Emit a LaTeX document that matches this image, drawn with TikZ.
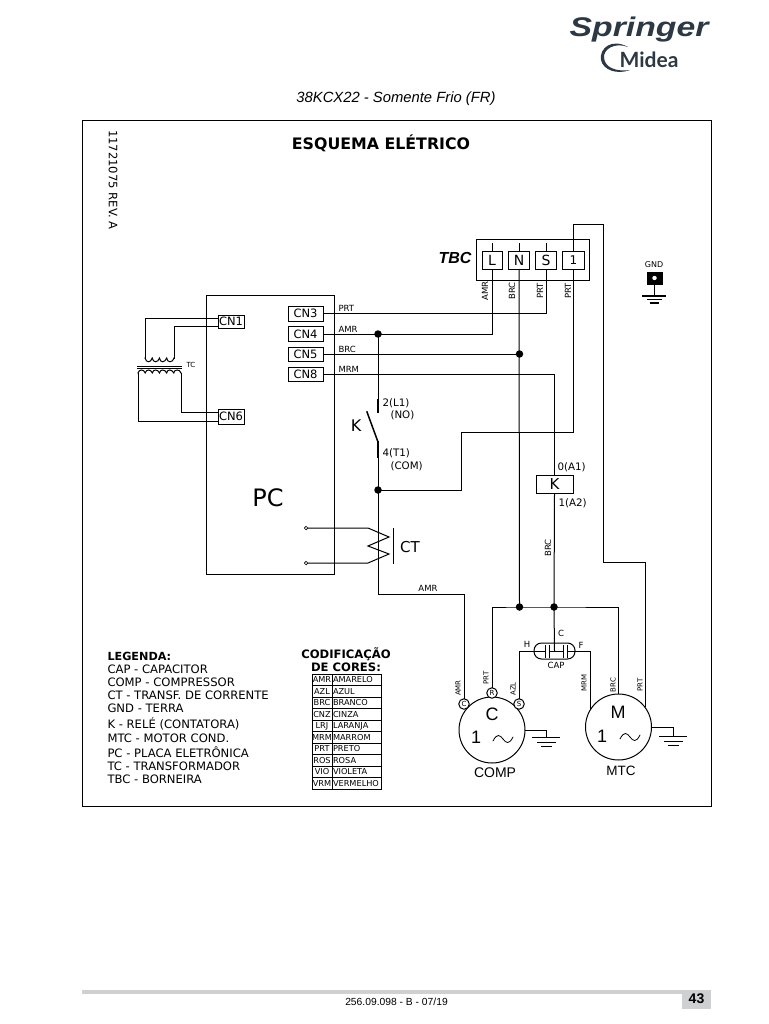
\documentclass[tikz,border=0pt]{standalone}
\usepackage{fontspec}
\setmainfont{DejaVu Sans}
\newfontfamily\arialf{Liberation Sans}
\newfontfamily\logof{Lato}
\newcommand{\fsz}[1]{\fontsize{#1}{#1}\selectfont}
\definecolor{logoc}{HTML}{2C3944}
\definecolor{barc}{HTML}{CFD0D2}

\begin{document}
\begin{tikzpicture}[x=1pt,y=-1pt,line width=1pt,line cap=rect,
    box/.style={draw,fill=white,inner sep=0pt,font=\fsz{11.5}},
    tbox/.style={box,font=\fsz{14},minimum height=18pt},
    dot/.style={circle,fill=black,inner sep=0pt,minimum size=7.5pt},
    lbl/.style={inner sep=0pt,font=\fsz{8.5}},
    pin/.style={inner sep=0pt,anchor=west,font=\fsz{10.3}},
    small/.style={inner sep=0pt,font=\fsz{7}},
    big/.style={inner sep=0pt,font=\fsz{16}},
    mot/.style={inner sep=0pt,font=\arialf\fsz{18}},
    legend/.style={inner sep=0pt,anchor=west,font=\fsz{11.6}},
    cell/.style={draw,inner sep=0pt,minimum height=11.5pt,text height=6pt,text depth=0pt,font=\fsz{8.2}},
    motor/.style={draw,circle,inner sep=0pt,minimum size=66pt},
    term/.style={draw,circle,fill=white,inner sep=0pt,minimum size=10.5pt,font=\fsz{7}},
    open/.style={draw,circle,fill=white,inner sep=0pt,minimum size=3.5pt,line width=0.7pt},
    gnd/.pic={
      \draw (-13.5,0) -- (13.5,0);
      \draw (-9,5) -- (9,5);
      \draw (-5,9) -- (5,9);
    },
    wave/.pic={
      \draw[line width=0.8pt,line cap=round] (-10,2) .. controls (-6,-6) and (-3,-4) .. (0,0)
         .. controls (3,4) and (6,6) .. (10,-2);
    }]
  \useasboundingbox (0,0) rectangle (768,1024);

  % page furniture
  \node (logoa) [inner sep=0pt,text=logoc,xscale=1.25,font=\arialf\bfseries\itshape\fsz{27}] at (639,30) {Springer};
  \node (logob) [inner sep=0pt,text=logoc,font=\logof\bfseries\fsz{21}] at (649,60) {Midea};
  \fill[logoc] (628,47) .. controls (612,38) and (599,48) .. (601,60)
     .. controls (603,70) and (617,75) .. (630,70)
     .. controls (617,72) and (605,68) .. (604,58)
     .. controls (603,49) and (615,42) .. (628,47);
  \node (head) [inner sep=0pt,font=\arialf\itshape\fsz{14.8}] at (396,99) {38KCX22 - Somente Frio (FR)};
  \node (frame) [draw,inner sep=0pt,minimum width=629pt,minimum height=685pt] at (396.5,463.5) {};
  \node (title) [inner sep=0pt,font=\bfseries\fsz{15.8}] at (381,143) {ESQUEMA ELÉTRICO};
  \node (rev) [inner sep=0pt,rotate=-90,font=\fsz{11.6}] at (113,180) {11721075 REV. A};

  % TBC
  \node (tbc) [draw,inner sep=0pt,minimum width=113pt,minimum height=41pt] at (532.5,259.5) {};
  \node (tbcname) [inner sep=0pt,font=\arialf\bfseries\itshape\fsz{16}] at (455,258) {TBC};
  \node (tbcL) [tbox,minimum width=20pt] at (492,260) {L};
  \node (tbcN) [tbox,minimum width=21pt] at (519,260) {N};
  \node (tbcS) [tbox,minimum width=21pt] at (546,260) {S};
  \node (tbc1) [tbox,minimum width=22pt,font=\fsz{12}] at (573.5,260) {1};
  \draw (tbcL.north) -- ++(0,-7);
  \draw (tbcN.north) -- ++(0,-7);
  \draw (tbcS.north) -- ++(0,-7);
  \node [lbl,rotate=90] at (485,291) {AMR};
  \node [lbl,rotate=90] at (512,291) {BRC};
  \node [lbl,rotate=90] at (540,291) {PRT};
  \node [lbl,rotate=90] at (568,291) {PRT};

  % GND
  \node (gndt) [lbl,font=\fsz{8}] at (654,265) {GND};
  \node (gnds) [draw,fill=black,inner sep=0pt,minimum width=15pt,minimum height=12pt] at (654.5,278) {};
  \node (gndc) [draw=black,fill=white,circle,line width=1.2pt,inner sep=0pt,minimum size=6pt] at (654.5,278) {};
  \coordinate (gndb) at (654.5,296);
  \draw[line width=1.8pt] (gnds.south) -- (gndb);
  \draw[line width=1.3pt] (643,296) -- (665,296) (648,299.5) -- (661,299.5) (651,303) -- (658,303);

  % PC board
  \node (pc) [draw,inner sep=0pt,minimum width=128pt,minimum height=279pt] at (270.5,434.5) {};
  \node (pct) [inner sep=0pt,font=\fsz{24}] at (268,498) {PC};
  \node (cn1) [box,minimum width=26pt,minimum height=13pt] at (231,321.5) {CN1};
  \node (cn6) [box,minimum width=26pt,minimum height=15pt] at (231,416.5) {CN6};
  \node (cn3) [box,minimum width=35pt,minimum height=15pt] at (305.5,313.5) {CN3};
  \node (cn4) [box,minimum width=35pt,minimum height=15pt] at (305.5,334) {CN4};
  \node (cn5) [box,minimum width=35pt,minimum height=14pt] at (305.5,354) {CN5};
  \node (cn8) [box,minimum width=35pt,minimum height=14pt] at (305.5,374) {CN8};
  \node [lbl,anchor=west] at (338,308) {PRT};
  \node [lbl,anchor=west] at (338,329) {AMR};
  \node [lbl,anchor=west] at (338,349) {BRC};
  \node [lbl,anchor=west] at (338,369) {MRM};

  % transformer
  \coordinate (ta) at (145,358);
  \coordinate (tb) at (174,358);
  \coordinate (tc) at (138,373);
  \coordinate (td) at (181,373);
  \draw (cn1.west |- 0,318) -| (ta);
  \draw (cn1.west |- 0,326) -| (tb);
  \draw (cn6.west |- 0,421) -| (tc);
  \draw (cn6.west |- 0,412) -| (td);
  \draw (ta) .. controls (146,363) and (151,363) .. (152.2,358)
     .. controls (153,363) and (158,363) .. (159.5,358)
     .. controls (160,363) and (165,363) .. (166.7,358)
     .. controls (167,363) and (173,363) .. (tb);
  \draw (tc) .. controls (139,369) and (144,369) .. (145.2,373)
     .. controls (146,369) and (151,369) .. (152.3,373)
     .. controls (153,369) and (158,369) .. (159.5,373)
     .. controls (160,369) and (165,369) .. (166.7,373)
     .. controls (167,369) and (172,369) .. (173.8,373)
     .. controls (174,369) and (180,369) .. (td);
  \draw (137,366) -- (181,366) (137,368.5) -- (181,368.5);
  \node (tct) [small] at (191,365) {TC};

  % joints
  \node (d1) [dot] at (378,334) {};
  \node (d2) [dot] at (519.5,354) {};
  \node (d3) [dot] at (519.5,607) {};
  \node (d4) [dot] at (554,607) {};
  \node (d5) [dot] at (378,490) {};

  % relay K
  \node (rel) [box,font=\fsz{15},minimum width=37pt,minimum height=18pt] at (554.5,484) {K};
  \node [pin] at (557,467) {0(A1)};
  \node [pin] at (558,503) {1(A2)};
  \node [lbl,rotate=90] at (548,548) {BRC};

  % wires from the board
  \draw (cn3.east) -| (tbcS.south);
  \draw (cn4.east) -| (tbcL.south);
  \draw (cn5.east) -- (d2.center);
  \draw (tbcN.south) -- (d3.center);
  \draw (cn8.east) -| (rel.north);
  \draw (rel.south) -- (d4.center);
  \coordinate (b1) at (461,432);
  \draw (tbc1.south) |- (b1) |- (d5.center);
  \coordinate (b2) at (603,225);
  \coordinate (b3) at (603,562);

  % contact K
  \coordinate (k1) at (378,400);
  \coordinate (k2) at (378,412);
  \coordinate (k3) at (367,412);
  \coordinate (k4) at (378,442);
  \coordinate (k5) at (378,457);
  \draw (d1.center) -- (k1);
  \draw[line width=1.7pt] (k1) -- (k2);
  \draw[line width=1.5pt] (k3) -- (k4);
  \draw[line width=1.7pt] (k4) -- (k5);
  \draw (k5) -- (d5.center);
  \node (kt) [big] at (356,426) {K};
  \node [pin] at (382,403) {2(L1)};
  \node [pin] at (390,415) {(NO)};
  \node [pin] at (382,453) {4(T1)};
  \node [pin] at (390,466) {(COM)};

  % CT
  \node (ct1) [open] at (306,528) {};
  \node (ct2) [open] at (306,563) {};
  \draw (ct1) -- (368,528) -- (389,537) -- (368,546) -- (389,554) -- (368,563) -- (ct2);
  \draw (393,528) -- (393,563);
  \node (ctt) [big,font=\fsz{15}] at (410,547) {CT};
  \node (amrt) [lbl] at (428,588) {AMR};

  % compressor
  \node (comp) [motor] at (492,730) {};
  \node (tC) [term] at (464,704) {C};
  \node (tR) [term] at (492,693) {R};
  \node (tS) [term] at (519,704) {S};
  \node [mot] at (492,714) {C};
  \node [mot] at (476,737) {1};
  \pic at (503,739) {wave};
  \node (compt) [inner sep=0pt,font=\arialf\fsz{14}] at (495,773) {COMP};
  \coordinate (g1) at (546,737);
  \draw (comp.east) -| (g1);
  \pic at (g1) {gnd};

  % fan motor
  \node (mtc) [motor] at (618.5,727) {};
  \node [mot] at (618,712) {M};
  \node [mot] at (602,736) {1};
  \pic at (630,737) {wave};
  \node (mtct) [inner sep=0pt,font=\arialf\fsz{13.5}] at (621,771) {MTC};
  \coordinate (g2) at (673,736);
  \draw (mtc.east) -| (g2);
  \pic at (g2) {gnd};

  % capacitor
  \node (cap) [draw,fill=white,inner sep=0pt,rounded corners=7.5pt,minimum width=41pt,minimum height=16pt] at (554.5,651) {};
  \draw (d4.center) -- (cap.center);
  \draw (cap.west) -- (545,651) (549,651) -- (563,651) (567,651) -- (cap.east);
  \draw (545,645) -- (545,657) (549,645) -- (549,657) (563,645) -- (563,657) (567,645) -- (567,657);
  \node [lbl] at (527,644) {H};
  \node [lbl] at (561,633) {C};
  \node [lbl] at (581,645) {F};
  \node [lbl] at (556,665) {CAP};

  % motor wires
  \coordinate (m1) at (378,594);
  \draw (d5.center) -- (m1) -| (tC.north);
  \draw (tR.north) |- (d3.center) -- (d4.center) -| (mtc.north);
  \draw (cap.west) -| (tS.north);
  \draw (cap.east) -| (mtc.148);
  \draw (tbc1.north) |- (b2) -- (b3) -| (mtc.37);
  \node [small,rotate=90] at (458,688) {AMR};
  \node [small,rotate=90] at (486,678) {PRT};
  \node [small,rotate=90] at (513,689) {AZL};
  \node [small,rotate=90] at (584,683) {MRM};
  \node [small,rotate=90] at (613,685) {BRC};
  \node [small,rotate=90] at (640,685) {PRT};

  % legend
  \node [legend,font=\bfseries\fsz{11.2}] at (107,656) {LEGENDA:};
  \node [legend] at (107,669) {CAP - CAPACITOR};
  \node [legend] at (107,682) {COMP - COMPRESSOR};
  \node [legend] at (107,695) {CT - TRANSF. DE CORRENTE};
  \node [legend] at (107,708) {GND - TERRA};
  \node [legend] at (107,724) {K - RELÉ (CONTATORA)};
  \node [legend] at (107,738) {MTC - MOTOR COND.};
  \node [legend] at (107,752) {PC - PLACA ELETRÔNICA};
  \node [legend] at (107,766) {TC - TRANSFORMADOR};
  \node [legend] at (107,779) {TBC - BORNEIRA};

  % colour table
  \node (cod1) [inner sep=0pt,font=\bfseries\fsz{11.6}] at (346,654) {CODIFICAÇÃO};
  \node (cod2) [inner sep=0pt,font=\bfseries\fsz{11.6}] at (346,667) {DE CORES:};
  \foreach \a/\b [count=\i] in {AMR/AMARELO,AZL/AZUL,BRC/BRANCO,CNZ/CINZA,LRJ/LARANJA,MRM/MARROM,PRT/PRETO,ROS/ROSA,VIO/VIOLETA,VRM/VERMELHO} {
    \node (ca\i) [cell,minimum width=20pt] at (322,668.25+11.5*\i) {\a};
    \node (cb\i) [cell,minimum width=49pt,text width=47pt,align=left] at (356.5,668.25+11.5*\i) {\b};
  }

  % footer
  \fill[barc] (82,990) rectangle (711,994);
  \fill[barc] (682,990) rectangle (711,1008.5);
  \node (foot) [inner sep=0pt,font=\arialf\fsz{10.3}] at (396.5,1002) {256.09.098 - B - 07/19};
  \node (page) [inner sep=0pt,font=\arialf\bfseries\fsz{14}] at (696.5,999) {43};
\end{tikzpicture}
\end{document}
